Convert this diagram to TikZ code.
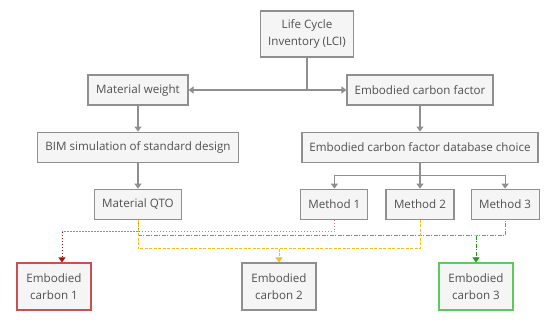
\documentclass[tikz,border=0pt]{standalone}
\usepackage{fontspec}
\setmainfont{Open Sans}
\usetikzlibrary{calc}
\usetikzlibrary{arrows.meta}
\usetikzlibrary{positioning}
\definecolor{boxfill}{HTML}{F5F5F5}
\definecolor{boxline}{HTML}{8F8F8F}
\definecolor{boxtext}{HTML}{505050}
\definecolor{redline}{HTML}{E07070}
\definecolor{redtip}{HTML}{A81414}
\definecolor{redbox}{HTML}{C85050}
\definecolor{yellowline}{HTML}{F5BC1E}
\definecolor{greenline}{HTML}{3CBF3C}
\definecolor{greentip}{HTML}{1A9E1A}
\definecolor{greenbox}{HTML}{5CCB5C}

\begin{document}
\begin{tikzpicture}[
  x=1pt, y=1pt,
  node distance=26pt,
  box/.style={
    rectangle, draw=boxline, fill=boxfill, line width=1.1pt,
    minimum height=30pt, inner sep=2pt, text=boxtext,
    align=center, font=\fontsize{11.6}{17}\selectfont},
  arr/.style={-{Triangle[length=5pt,width=7pt]}, boxline, line width=1.1pt},
  redl/.style={redline, line width=1pt, dotted},
  yell/.style={yellowline, line width=1pt, dash pattern=on 3pt off 1.5pt},
  grnl/.style={greenline, line width=1pt, dash pattern=on 4pt off 1.5pt on 1pt off 1.5pt},
]
  \useasboundingbox (0,0) rectangle (550,-320);

  % ── Top of the tree ─────────────────────────────────────────────────────
  \node[box, minimum width=93pt, minimum height=46pt] (lci) at (307,-34)
      {Life Cycle\\Inventory (LCI)};
  \node[box, minimum width=100pt] (mw)  at (138,-90) {Material weight};
  \node[box, minimum width=146pt] (ecf) at (420,-90) {Embodied carbon factor};

  % ── Left column ─────────────────────────────────────────────────────────
  \node[box, minimum width=201pt, below=of mw]  (bim) {BIM simulation of standard design};
  \node[box, minimum width=87pt,  below=of bim] (qto) {Material QTO};

  % ── Right column ────────────────────────────────────────────────────────
  \node[box, minimum width=236pt, below=of ecf] (db)
      {Embodied carbon factor database choice};
  \node[box, minimum width=68pt, below=of db]        (m2) {Method 2};
  \node[box, minimum width=67pt, left=17pt of m2]    (m1) {Method 1};
  \node[box, minimum width=68pt, right=16pt of m2]   (m3) {Method 3};

  % ── Results ─────────────────────────────────────────────────────────────
  \node[box, minimum width=74pt, minimum height=47pt, draw=redbox] (ec1)
      at (54,-286.5) {Embodied\\carbon 1};
  \node[box, minimum width=74pt, minimum height=47pt] (ec2)
      at (279,-286.5) {Embodied\\carbon 2};
  \node[box, minimum width=74pt, minimum height=47pt, draw=greenbox] (ec3)
      at (476,-286.5) {Embodied\\carbon 3};

  % ── Grey arrows ─────────────────────────────────────────────────────────
  \draw[arr] (lci.south) |- (mw.east);
  \draw[arr] (lci.south) |- (ecf.west);
  \draw[arr] (mw)  -- (bim);
  \draw[arr] (bim) -- (qto);
  \draw[arr] (ecf) -- (db);
  \coordinate (split) at ($(db.south)!0.5!(m2.north)$);
  \draw[arr] (db.south) -- (m2.north);
  \draw[arr] (split) -| (m1.north);
  \draw[arr] (split) -| (m3.north);

  % ── Coloured routes to the results ──────────────────────────────────────
  \coordinate (rj) at (62,-232);
  \coordinate (gj) at (476,-236);
  \coordinate (yj) at (279,-249);

  \draw[redl] (m1.south) |- (rj);
  \draw[redl] (qto.south) |- (rj);
  \draw[redl, -{Triangle[length=5pt,width=7pt,fill=redtip]}, redtip]
      (rj) -- (rj |- ec1.north);

  \draw[grnl] (qto.south) |- (gj) -| (m3.south);
  \draw[grnl, -{Triangle[length=5pt,width=7pt,fill=greentip]}, greentip]
      (gj) -- (ec3.north);

  \draw[yell] (qto.south) |- (yj) -| (m2.south);
  \draw[yell, -{Triangle[length=5pt,width=7pt]}]
      (yj) -- (ec2.north);

\end{tikzpicture}
\end{document}
